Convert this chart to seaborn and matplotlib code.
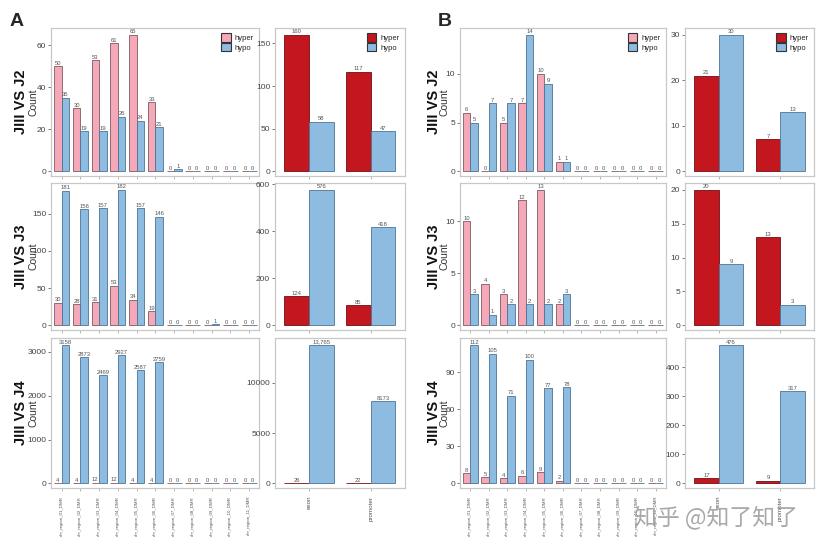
import matplotlib
matplotlib.use('Agg')
import numpy as np
import pandas as pd
import matplotlib.pyplot as plt
import seaborn as sns
from matplotlib.patches import Patch

# categories (tick labels too small to read in the source, placeholders)
cats = ['chr_region_%02d_DMR' % i for i in range(1, 12)]
regions = ['exon', 'promoter']

# A: per-category counts
A_J2_hyper = [50, 30, 53, 61, 65, 33, 0, 0, 0, 0, 0]
A_J2_hypo = [35, 19, 19, 26, 24, 21, 1, 0, 0, 0, 0]
A_J3_hyper = [30, 28, 31, 53, 34, 19, 0, 0, 0, 0, 0]
A_J3_hypo = [181, 156, 157, 182, 157, 146, 0, 0, 1, 0, 0]
A_J4_hyper = [4, 4, 12, 12, 4, 4, 0, 0, 0, 0, 0]
A_J4_hypo = [3158, 2873, 2469, 2927, 2587, 2759, 0, 0, 0, 0, 0]

# A: exon / promoter
A_J2_reg_hyper = [160, 117]
A_J2_reg_hypo = [58, 47]
A_J3_reg_hyper = [124, 85]
A_J3_reg_hypo = [576, 418]
A_J4_reg_hyper = [26, 22]
A_J4_reg_hypo = [13765, 8173]

# B: per-category counts
B_J2_hyper = [6, 0, 5, 7, 10, 1, 0, 0, 0, 0, 0]
B_J2_hypo = [5, 7, 7, 14, 9, 1, 0, 0, 0, 0, 0]
B_J3_hyper = [10, 4, 3, 12, 13, 2, 0, 0, 0, 0, 0]
B_J3_hypo = [3, 1, 2, 2, 2, 3, 0, 0, 0, 0, 0]
B_J4_hyper = [8, 5, 4, 6, 9, 2, 0, 0, 0, 0, 0]
B_J4_hypo = [112, 105, 71, 100, 77, 78, 0, 0, 0, 0, 0]

# B: exon / promoter
B_J2_reg_hyper = [21, 7]
B_J2_reg_hypo = [30, 13]
B_J3_reg_hyper = [20, 13]
B_J3_reg_hypo = [9, 3]
B_J4_reg_hyper = [17, 9]
B_J4_reg_hypo = [476, 317]

row_names = ['JIII VS J2', 'JIII VS J3', 'JIII VS J4']

ticks_A = [[0, 20, 40, 60], [0, 50, 100, 150], [0, 1000, 2000, 3000]]
ticks_A_reg = [[0, 50, 100, 150], [0, 200, 400, 600], [0, 5000, 10000]]
ticks_B = [[0, 5, 10], [0, 5, 10], [0, 30, 60, 90]]
ticks_B_reg = [[0, 10, 20, 30], [0, 5, 10, 15, 20], [0, 100, 200, 300, 400]]

PINK = '#f5a8b8'
BLUE = '#8ebbe0'
RED = '#c4161e'

sns.set_theme(style='white')
plt.rcParams['font.family'] = ['Liberation Sans', 'DejaVu Sans']

fig = plt.figure(figsize=(8.26, 5.4), dpi=100)

col_x = [0.062, 0.333, 0.557, 0.829]
col_w = [0.252, 0.157, 0.249, 0.157]
row_y = [0.674, 0.389, 0.096]
row_h = [0.274, 0.272, 0.278]


def fmt(v):
    return '{:,}'.format(v) if v >= 10000 else str(v)


def draw(ax, labels, hyper, hypo, hyper_color, ticks, show_x, legend, xfont):
    n = len(labels)
    df = pd.DataFrame({'cat': labels * 2,
                       'group': ['hyper'] * n + ['hypo'] * n,
                       'count': hyper + hypo})
    sns.barplot(data=df, x='cat', y='count', hue='group', order=labels,
                hue_order=['hyper', 'hypo'],
                palette={'hyper': hyper_color, 'hypo': BLUE},
                saturation=1, width=0.8, ax=ax, legend=False, linewidth=0.6)
    edges = ['#7d5a62' if hyper_color == PINK else '#6e1014', '#4d7396']
    for c, vals, ec in zip(ax.containers, [hyper, hypo], edges):
        for b in c:
            b.set_edgecolor(ec)
        ax.bar_label(c, labels=[fmt(v) for v in vals],
                     fontsize=4.2, color='#555555', padding=0.3)
    top = max(hyper + hypo)
    ax.set_ylim(-0.035 * top, top * 1.05)
    ax.set_xlim(-0.55, n - 0.45)
    ax.set_yticks(ticks)
    ax.set_xlabel('')
    ax.set_ylabel('')
    for s in ax.spines.values():
        s.set_visible(True)
        s.set_color('#c8c8c8')
        s.set_linewidth(0.9)
    ax.tick_params(axis='y', labelsize=6, colors='#444444', length=2,
                   width=0.5, left=True, pad=1.5)
    ax.tick_params(axis='x', length=2, width=0.5, bottom=True,
                   colors='#999999')
    if show_x:
        ax.set_xticks(range(n))
        ax.set_xticklabels(labels, rotation=90, fontsize=xfont,
                           color='#555555')
    else:
        ax.tick_params(axis='x', labelbottom=False)
    if legend:
        handles = [Patch(facecolor=hyper_color, edgecolor='#333333', lw=0.8),
                   Patch(facecolor=BLUE, edgecolor='#333333', lw=0.8)]
        ax.legend(handles, ['hyper', 'hypo'], loc='upper right',
                  frameon=False, fontsize=5.5, handlelength=1.3,
                  handleheight=1.3, borderaxespad=0.3, labelspacing=0.1,
                  handletextpad=0.5)


A_left = [(A_J2_hyper, A_J2_hypo), (A_J3_hyper, A_J3_hypo), (A_J4_hyper, A_J4_hypo)]
A_right = [(A_J2_reg_hyper, A_J2_reg_hypo), (A_J3_reg_hyper, A_J3_reg_hypo),
           (A_J4_reg_hyper, A_J4_reg_hypo)]
B_left = [(B_J2_hyper, B_J2_hypo), (B_J3_hyper, B_J3_hypo), (B_J4_hyper, B_J4_hypo)]
B_right = [(B_J2_reg_hyper, B_J2_reg_hypo), (B_J3_reg_hyper, B_J3_reg_hypo),
           (B_J4_reg_hyper, B_J4_reg_hypo)]

panels = [(A_left, cats, PINK, ticks_A, 3.2),
          (A_right, regions, RED, ticks_A_reg, 4.5),
          (B_left, cats, PINK, ticks_B, 3.2),
          (B_right, regions, RED, ticks_B_reg, 4.5)]

for ci, (data, labels, hcol, ticks, xf) in enumerate(panels):
    for ri in range(3):
        ax = fig.add_axes([col_x[ci], row_y[ri], col_w[ci], row_h[ri]])
        hy, ho = data[ri]
        draw(ax, labels, hy, ho, hcol, ticks[ri], ri == 2, ri == 0, xf)

# row titles and "Count" labels at fixed positions
for ri, name in enumerate(row_names):
    yc = row_y[ri] + row_h[ri] / 2
    for xb, xc in [(0.026, 0.040), (0.526, 0.538)]:
        fig.text(xb, yc, name, rotation=90, fontsize=10.5, fontweight='bold',
                 ha='center', va='center', color='#111111')
        fig.text(xc, yc, 'Count', rotation=90, fontsize=7.5,
                 ha='center', va='center', color='#333333')

fig.text(0.012, 0.975, 'A', fontsize=14, fontweight='bold', va='top')
fig.text(0.530, 0.975, 'B', fontsize=14, fontweight='bold', va='top')

fig.text(0.768, 0.042, '知乎 @知了知了', fontsize=16.5, color='#9a9a9a',
         alpha=0.85, family=['Noto Sans CJK SC', 'DejaVu Sans'],
         ha='left', va='center')

fig.savefig('out.png', dpi=100)
